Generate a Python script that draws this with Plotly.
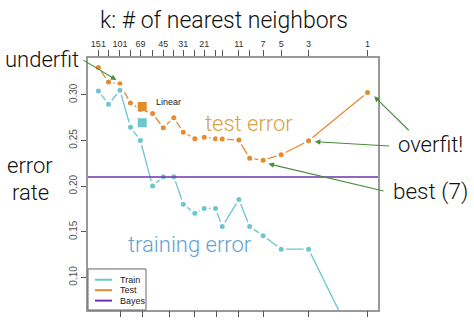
import math
import plotly.graph_objects as go

# ---------------- data ----------------
k_values = [151, 125, 101, 83, 69, 55, 45, 37, 31, 25, 21, 17, 15, 11, 9, 7, 5, 3, 1]
test_error = [0.330, 0.314, 0.312, 0.291, 0.284, 0.2795, 0.264, 0.275, 0.259, 0.252,
              0.2536, 0.252, 0.2515, 0.2504, 0.2305, 0.2284, 0.2344, 0.2497, 0.3026]
train_error = [0.3043, 0.2898, 0.305, 0.2646, 0.250, 0.2001, 0.2103, 0.2103, 0.1802, 0.1702,
               0.1755, 0.1755, 0.1557, 0.1855, 0.1557, 0.1458, 0.131, 0.131, 0.0]
k_labels = {151: "151", 101: "101", 69: "69", 45: "45", 31: "31", 21: "21",
            11: "11", 7: "7", 5: "5", 3: "3", 1: "1"}
n_train = 200
dof_ticks = [2, 3, 5, 8, 12, 18, 29, 67, 200]
linear_dof = 3
linear_test = 0.2872
linear_train = 0.2694
bayes_error = 0.21
legend_names = ["Train", "Test", "Bayes"]

# ---------------- style ----------------
W, H = 474, 326
L, R, T, B = 88, 96, 58, 10
X_RANGE = [2.263, -0.085]   # log10(k), reversed
Y_RANGE = [0.0644, 0.3403]
C_TEST = "#E68A2E"
C_TRAIN = "#6CC6CE"
C_BAYES = "#6B35B0"
C_ARROW = "#4A8B3C"
AXIS_GRAY = "#9A9A9A"
FONT = "Liberation Sans, Arial, sans-serif"
BIG_FONT = "Roboto, Liberation Sans, Arial, sans-serif"

pw, ph = W - L - R, H - T - B


def px_to_paper(px, py):
    return (px - L) / pw, (H - B - py) / ph


def data_shift(k, y, dx_px, dy_px):
    """data coordinate of a point offset by pixels from (k, y)"""
    lx = math.log10(k) + dx_px * (X_RANGE[1] - X_RANGE[0]) / pw
    yy = y - dy_px * (Y_RANGE[1] - Y_RANGE[0]) / ph
    return lx, yy


fig = go.Figure()

marker_common = dict(size=7.5, line=dict(color="white", width=2.5))

fig.add_trace(go.Scatter(
    x=k_values, y=train_error, mode="lines+markers", xaxis="x2", yaxis="y",
    name="Train", line=dict(color=C_TRAIN, width=1.3),
    marker=dict(color=C_TRAIN, **marker_common), showlegend=False))
fig.add_trace(go.Scatter(
    x=k_values, y=test_error, mode="lines+markers", xaxis="x", yaxis="y",
    name="Test", line=dict(color=C_TEST, width=1.3),
    marker=dict(color=C_TEST, **marker_common), showlegend=False))

linear_k = n_train / linear_dof
fig.add_trace(go.Scatter(
    x=[linear_k, linear_k], y=[linear_test, linear_train], mode="markers",
    marker=dict(symbol="square", size=9, color=[C_TEST, C_TRAIN]),
    showlegend=False))

fig.add_hline(y=bayes_error, line=dict(color=C_BAYES, width=1.5))

fig.update_layout(
    width=W, height=H, margin=dict(l=L, r=R, t=T, b=B, pad=0),
    paper_bgcolor="white", plot_bgcolor="white",
    font=dict(family=FONT, color="#222"),
    showlegend=False,
    xaxis=dict(type="log", range=X_RANGE, side="top",
               tickvals=k_values, ticktext=[k_labels.get(k, "") for k in k_values],
               ticks="outside", ticklen=6, tickcolor="#555", tickwidth=1,
               tickfont=dict(size=9, color="#333"),
               showline=True, linecolor=AXIS_GRAY, linewidth=1.5, mirror=True,
               showgrid=False, zeroline=False),
    xaxis2=dict(type="log", range=X_RANGE, side="bottom", overlaying="x",
                tickvals=[n_train / d for d in dof_ticks], showticklabels=False,
                ticks="outside", ticklen=6, tickcolor="#555", tickwidth=1,
                showline=False, showgrid=False, zeroline=False),
    yaxis=dict(range=Y_RANGE, tickvals=[0.10, 0.15, 0.20, 0.25, 0.30],
               tickformat=".2f", tickangle=-90, ticks="outside", ticklen=5,
               tickcolor="#555", tickfont=dict(size=10, color="#555"),
               showline=True, linecolor=AXIS_GRAY, linewidth=1.5, mirror=True,
               showgrid=False, zeroline=False),
)

# ---------------- compact R-style legend ----------------
lx0, ly0 = px_to_paper(88, 316)
lx1, ly1 = px_to_paper(146, 274)
fig.add_shape(type="rect", xref="paper", yref="paper", x0=lx0, y0=ly0, x1=lx1, y1=ly1,
              line=dict(color="#666", width=1), fillcolor="white", layer="above")
for i, (name, col) in enumerate(zip(legend_names, [C_TRAIN, C_TEST, C_BAYES])):
    py = 285 + i * 10.7
    a0, b0 = px_to_paper(95, py)
    a1, _ = px_to_paper(112, py)
    fig.add_shape(type="line", xref="paper", yref="paper", x0=a0, y0=b0, x1=a1, y1=b0,
                  line=dict(color=col, width=2), layer="above")
    t0, _ = px_to_paper(118, py)
    fig.add_annotation(text=name, x=t0, y=b0, xref="paper", yref="paper",
                       showarrow=False, xanchor="left", yanchor="middle",
                       font=dict(size=9, color="#222", family=FONT))


# ---------------- text annotations ----------------
def text_ann(txt, px, py, size=22, color="#111", xanchor="center"):
    xp, yp = px_to_paper(px, py)
    fig.add_annotation(text=txt, x=xp, y=yp, xref="paper", yref="paper",
                       showarrow=False, xanchor=xanchor, yanchor="middle",
                       font=dict(size=size, color=color, family=BIG_FONT, weight=300))

text_ann("k: # of nearest neighbors", 224, 20, size=23)
text_ann("underfit", 42, 60)
text_ann("error", 30, 168)
text_ann("rate", 30, 196)
text_ann("test error", 249, 125, color="#D6A243")
text_ann("training error", 190, 249, color="#659FD6")
text_ann("overfit!", 430, 147)
text_ann("best (7)", 430, 195, size=22.5)

xp, yp = px_to_paper(154, 96)
fig.add_annotation(text="Linear", x=xp, y=yp, xref="paper", yref="paper",
                   showarrow=False, font=dict(size=9, color="#222", family=FONT))


# ---------------- arrows ----------------
def arrow(k, y, head_dx, head_dy, tail_dx, tail_dy):
    hx, hy = data_shift(k, y, head_dx, head_dy)
    fig.add_annotation(x=hx, y=hy, xref="x", yref="y", text="", showarrow=True,
                       ax=tail_dx, ay=tail_dy, axref="pixel", ayref="pixel",
                       arrowhead=2, arrowsize=1, arrowwidth=1.1, arrowcolor=C_ARROW)

i101 = k_values.index(101)
arrow(101, test_error[i101], -3.6, -4, -34.4, -20.7)
i1 = k_values.index(1)
arrow(1, test_error[i1], 6.7, 4, 36, 35.4)
i3 = k_values.index(3)
arrow(3, test_error[i3], 6.3, 1, 75.7, 4.3)
i7 = k_values.index(7)
arrow(7, test_error[i7], 5.3, 3.7, 116.7, 27.6)

fig.write_html("out.html")
